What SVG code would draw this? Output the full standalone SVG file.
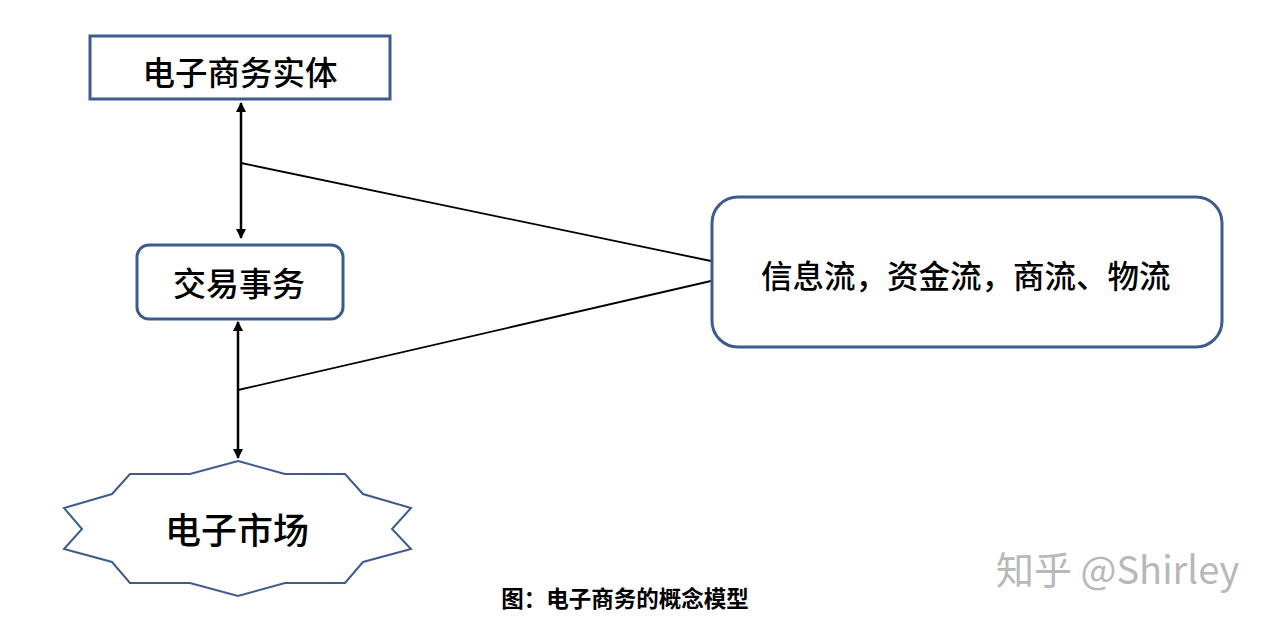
<svg xmlns="http://www.w3.org/2000/svg" width="1274" height="626" viewBox="0 0 1274 626">
<style>
.box{fill:#fff;stroke:#3D5C8E;stroke-width:3}
.star{fill:#fff;stroke:#3D5C8E;stroke-width:2}
.t{font-family:"Noto Sans CJK SC","Noto Sans",sans-serif;fill:#000;text-anchor:middle;dominant-baseline:central;font-weight:500}
.arr{stroke:#000;stroke-width:2.5;fill:none;marker-start:url(#ah);marker-end:url(#ah)}
.ln{stroke:#000;stroke-width:1.8;fill:none}
</style>
<defs>
<marker id="ah" viewBox="0 0 10 10" refX="9" refY="5" markerWidth="4" markerHeight="4" orient="auto-start-reverse" markerUnits="strokeWidth">
<path d="M0,0 L10,5 L0,10 Z" fill="#000"/>
</marker>
</defs>
<rect width="1274" height="626" fill="#fff"/>
<g id="connectors">
<line class="arr" x1="241" y1="103" x2="241" y2="238"/>
<line class="arr" x1="238" y1="322" x2="238" y2="458"/>
<line class="ln" x1="241" y1="163" x2="711" y2="261"/>
<line class="ln" x1="238" y1="390" x2="711" y2="281"/>
</g>
<g id="entity">
<rect class="box" x="90" y="36" width="300" height="63"/>
<text class="t" x="240" y="70" font-size="32.5">电子商务实体</text>
</g>
<g id="transaction">
<rect class="box" x="137" y="245" width="206" height="74" rx="12"/>
<text class="t" x="239" y="282" font-size="33">交易事务</text>
</g>
<g id="flows">
<rect class="box" x="712" y="197" width="510" height="150" rx="26"/>
<text class="t" x="761" y="274" font-size="31.5" style="text-anchor:start">信息流，资金流，商流、物流</text>
</g>
<g id="market">
<polygon class="star" points="238,461 285,474 345,474 363,494 411,508 392,529 411,549 363,562 345,583 285,583 238,596 190,583 130,583 112,562 64,549 82,529 64,508 112,494 130,474 190,474"/>
<text class="t" x="237" y="528" font-size="36">电子市场</text>
</g>
<g id="caption">
<text class="t" x="625" y="597" font-size="22.5" style="font-weight:700">图：电子商务的概念模型</text>
</g>
<g id="watermark">
<text x="996" y="584" font-size="38" fill="#b8b8b8" font-family="Noto Sans CJK SC,Noto Sans,sans-serif">知乎 @Shirley</text>
</g>
</svg>
